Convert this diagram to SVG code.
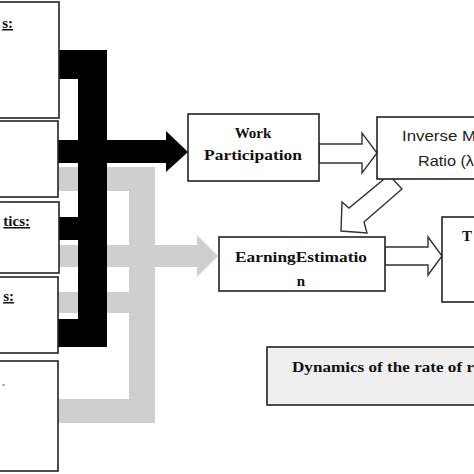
<svg xmlns="http://www.w3.org/2000/svg" width="474" height="474" viewBox="0 0 474 474">
<style>
.box{fill:#fff;stroke:#222;stroke-width:1.6}
.serif{font-family:"Liberation Serif","Times New Roman",serif;font-weight:bold;font-size:15px;fill:#111}
.sans{font-family:"Liberation Sans",Arial,sans-serif;font-size:14px;fill:#222}
.ul{text-decoration:underline}
.gray{fill:#cfcfcf}
.blk{fill:#000}
.hollow{fill:#fff;stroke:#333;stroke-width:1.4;stroke-linejoin:miter}
</style>
<rect width="474" height="474" fill="#fff"/>
<g id="connectors">
  <g id="gray-connector">
    <rect class="gray" x="58" y="167" width="97" height="24"/>
    <rect class="gray" x="129" y="167" width="26" height="256"/>
    <rect class="gray" x="58" y="399" width="97" height="24"/>
    <rect class="gray" x="58" y="245" width="140" height="22"/>
    <polygon class="gray" points="197,235 218,256 197,277"/>
    <rect class="gray" x="58" y="292" width="71" height="21"/>
  </g>
  <g id="black-connector">
    <rect class="blk" x="59" y="50" width="48" height="29"/>
    <rect class="blk" x="78" y="50" width="29" height="297"/>
    <rect class="blk" x="58" y="140" width="109" height="23"/>
    <polygon class="blk" points="166,131 188,152 166,172"/>
    <rect class="blk" x="59" y="217" width="19" height="23"/>
    <rect class="blk" x="58" y="319" width="49" height="28"/>
  </g>
  <polygon id="arrow-work-inverse" class="hollow" points="319,144 362,144 362,133 377,153 362,173 362,163 319,163"/>
  <polygon id="arrow-inverse-earning" class="hollow" points="389,175 402,189 364,222 367,233 341,231 342,202 349,208"/>
  <polygon id="arrow-earning-t" class="hollow" points="385,247 428,247 428,237 442,256 428,275 428,265 385,265"/>
</g>
<g id="box1"><rect class="box" x="-4" y="2" width="63" height="116"/><text class="serif ul" x="13" y="28" text-anchor="end">s:</text></g>
<g id="box2"><rect class="box" x="-4" y="121" width="62" height="76"/></g>
<g id="box3"><rect class="box" x="-4" y="202" width="63" height="71"/><text class="serif ul" x="30" y="226" text-anchor="end">tics:</text></g>
<g id="box4"><rect class="box" x="-4" y="277" width="62" height="76"/><text class="serif ul" x="14" y="301" text-anchor="end">s:</text></g>
<g id="box5"><rect class="box" x="-4" y="361" width="62" height="110"/><text class="serif" x="5" y="386" text-anchor="end" style="fill:#888;font-size:12px">.</text></g>
<g id="work"><rect class="box" x="188" y="114" width="131" height="67"/>
  <text class="serif" x="253" y="138" text-anchor="middle">Work</text>
  <text class="serif" x="253" y="160" text-anchor="middle" textLength="98" lengthAdjust="spacingAndGlyphs">Participation</text></g>
<g id="inverse"><rect class="box" x="377" y="117" width="110" height="62"/>
  <text class="sans" x="402" y="141" textLength="74" lengthAdjust="spacingAndGlyphs">Inverse M</text>
  <text class="sans" x="418" y="166" textLength="56" lengthAdjust="spacingAndGlyphs">Ratio (λ</text></g>
<g id="earning"><rect class="box" x="219" y="237" width="166" height="54"/>
  <text class="serif" x="301" y="262" text-anchor="middle" textLength="132" lengthAdjust="spacingAndGlyphs">EarningEstimatio</text>
  <text class="serif" x="301" y="286" text-anchor="middle">n</text></g>
<g id="t-box"><rect class="box" x="442" y="217" width="45" height="85"/>
  <text class="serif" x="462" y="241">T</text></g>
<g id="dynamics"><rect class="box" x="267" y="347" width="220" height="58" style="fill:#efefef"/>
  <text class="serif" x="292" y="372" textLength="182" lengthAdjust="spacingAndGlyphs">Dynamics of the rate of r</text></g>
</svg>
